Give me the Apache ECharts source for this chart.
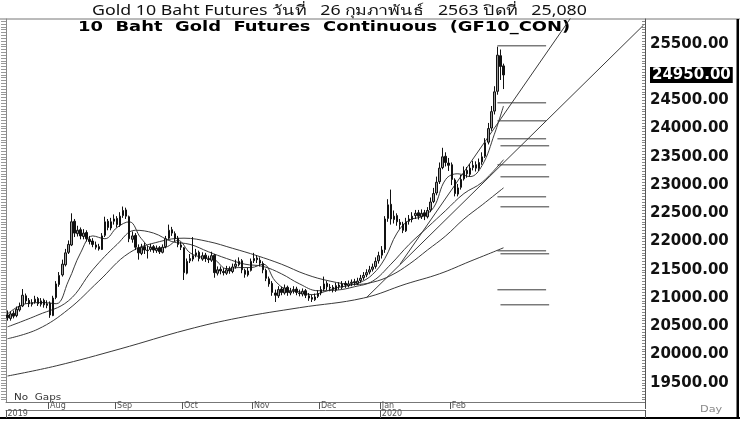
<!DOCTYPE html>
<html><head><meta charset="utf-8">
<script src="https://cdn.jsdelivr.net/npm/echarts/dist/echarts.min.js"></script>
<style>html,body{margin:0;padding:0;background:#fff}#c{width:750px;height:422px}</style>
</head><body><div id="c"></div>
<script>
const opens=[20700,20640,20730,20690,20790,20860,21040,20960,20890,20930,
20990,20890,20960,20870,20910,20690,21010,21240,21410,21590,
21810,21940,22360,22140,22210,22090,22160,22040,22010,21940,
21910,21860,22110,22360,22240,22360,22410,22290,22460,22560,
22440,22040,22110,21890,21790,21910,21840,21860,21910,21840,
21890,21810,21910,22060,22210,22140,22060,21940,21890,21440,
21660,21690,21760,21810,21690,21760,21690,21670,21760,21440,
21510,21470,21440,21510,21470,21560,21590,21660,21490,21410,
21490,21660,21710,21670,21610,21490,21340,21260,21090,21040,
21160,21090,21190,21090,21130,21160,21090,21070,21130,21040,
21010,20970,21030,21090,21160,21260,21190,21190,21140,21230,
21190,21260,21220,21260,21290,21260,21310,21360,21410,21460,
21510,21560,21660,21760,21860,22410,22660,22390,22460,22340,
22310,22190,22360,22390,22460,22510,22440,22510,22440,22560,
22710,22860,23060,23310,23510,23390,23360,23090,22840,22960,
23110,23260,23190,23310,23360,23290,23410,23510,23760,24010,
24310,24660,25290,25110];
const closes=[20650,20720,20680,20800,20850,21050,20950,20900,20920,20980,
20900,20950,20880,20900,20700,21000,21250,21400,21600,21800,
21950,22350,22150,22200,22100,22150,22050,22000,21950,21900,
21870,22100,22350,22250,22350,22400,22300,22450,22550,22450,
22050,22100,21900,21800,21900,21850,21850,21900,21850,21880,
21820,21900,22050,22200,22150,22050,21950,21900,21450,21650,
21700,21750,21800,21700,21750,21700,21680,21750,21450,21500,
21480,21450,21500,21480,21550,21600,21650,21500,21420,21480,
21650,21700,21680,21620,21500,21350,21250,21100,21050,21150,
21100,21180,21100,21120,21150,21100,21080,21120,21050,21000,
20980,21020,21080,21150,21250,21200,21180,21150,21220,21200,
21250,21230,21250,21280,21270,21300,21350,21400,21450,21500,
21550,21650,21750,21850,22400,22650,22400,22450,22350,22300,
22200,22350,22400,22450,22500,22450,22500,22450,22550,22700,
22850,23050,23300,23500,23400,23350,23100,22850,22950,23100,
23250,23200,23300,23350,23300,23400,23500,23750,24000,24300,
24650,25300,25100,24950];
const lows=[20600,20600,20640,20660,20760,20840,20900,20840,20850,20900,
20860,20850,20830,20820,20650,20680,20980,21200,21380,21560,
21780,21920,22080,22090,22040,22040,22000,21950,21900,21860,
21840,21850,22080,22200,22200,22300,22250,22260,22420,22400,
21990,21980,21850,21680,21760,21780,21700,21820,21800,21800,
21780,21790,21880,22040,22100,22000,21900,21850,21320,21420,
21620,21650,21720,21650,21660,21640,21620,21640,21360,21400,
21420,21400,21410,21430,21440,21520,21560,21440,21360,21380,
21470,21620,21620,21560,21440,21300,21200,21040,20930,21000,
21050,21060,21040,21050,21080,21050,21030,21030,21000,20950,
20930,20950,21000,21050,21120,21140,21120,21100,21110,21150,
21160,21180,21190,21210,21220,21230,21270,21320,21370,21420,
21470,21520,21610,21700,21800,22350,22300,22320,22280,22220,
22150,22170,22300,22340,22400,22390,22400,22380,22410,22520,
22680,22820,23020,23280,23330,23250,23000,22800,22800,22920,
23080,23130,23150,23260,23240,23250,23360,23480,23720,23960,
24250,24600,24860,24700];
const highs=[20780,20760,20780,20850,20920,21160,21080,21000,20980,21040,
21020,21000,20990,20960,20940,21040,21300,21460,21680,21870,
22020,22500,22400,22280,22250,22220,22200,22100,22060,22000,
21960,22150,22440,22400,22420,22480,22450,22520,22620,22600,
22460,22180,22150,21950,21960,21980,21920,21960,21940,21930,
21920,21950,22100,22300,22260,22180,22100,21990,21900,21700,
21780,22080,21870,21840,21810,21800,21750,21820,21780,21560,
21560,21530,21570,21560,21610,21680,21720,21690,21520,21540,
21700,21800,21760,21720,21650,21520,21380,21300,21150,21210,
21200,21240,21220,21180,21210,21200,21150,21170,21160,21090,
21060,21080,21140,21210,21380,21300,21250,21230,21270,21280,
21300,21300,21310,21330,21340,21360,21410,21460,21510,21570,
21610,21720,21820,21920,22450,22750,22920,22550,22500,22400,
22350,22420,22470,22520,22560,22560,22570,22560,22610,22780,
22950,23150,23400,23660,23580,23480,23400,23120,23020,23180,
23330,23320,23370,23430,23420,23470,23580,23830,24100,24400,
24750,25450,25400,25150];

// moving averages: [bar index, value]
const maShort=[[0,20720],[6,20900],[12,20920],[16,20900],[20,21300],[24,21800],[28,22100],[32,22050],[36,22250],[40,22350],[44,22050],[48,21880],[52,21900],[56,22020],[60,21800],[64,21720],[68,21680],[72,21520],[76,21540],[80,21540],[84,21600],[88,21300],[92,21140],[96,21110],[100,21060],[104,21110],[108,21180],[112,21220],[116,21280],[120,21420],[124,21700],[128,22150],[132,22380],[136,22440],[140,22600],[144,23100],[148,23200],[152,23150],[156,23350],[160,23900],[163,24400]];
const maMid=[[0,20490],[10,20700],[20,20950],[28,21500],[36,21950],[42,22200],[48,22150],[54,22000],[60,21950],[66,21820],[72,21700],[78,21600],[84,21560],[90,21430],[96,21250],[102,21130],[108,21140],[114,21200],[120,21300],[126,21600],[132,21950],[138,22250],[144,22550],[150,22850],[156,23050],[163,23450]];
const maLong=[[0,20280],[10,20450],[20,20800],[30,21300],[40,21800],[50,22000],[58,22060],[66,22000],[74,21880],[82,21750],[90,21600],[98,21420],[106,21300],[114,21240],[120,21280],[126,21400],[132,21600],[138,21850],[144,22100],[150,22400],[156,22650],[163,22950]];
const ma200=[[0,19620],[16,19800],[37,20100],[59,20440],[76,20650],[96,20830],[117,21000],[131,21250],[142,21430],[152,21650],[158,21780],[163,21890]];
const trend1=[[129,21600],[186,26030]];
const trend2=[[118,21010],[209,25830]];
const levelValues=[25465,24456,24137,23819,23695,23358,23146,22792,22615,21836,21783,21146,20880];
const levelStart=[161,161,161,161,162,161,162,161,162,161,162,161,162];
const levelEnd=[177,177,177,177,178,177,178,177,178,177,178,177,178];

const monthLabels=['Aug','Sep','Oct','Nov','Dec','Jan','Feb'];
const monthStart=[14,36,58,81,103,123,146];
const yearLabels=['2019','2020'];
const yearStart=[0,123];
const yLabelValues=[19500,20000,20500,21000,21500,22000,22500,23000,23500,24000,24500,24950,25500];
const lastPrice=24950;
const titleText='Gold 10 Baht Futures วันที่   26 กุมภาพันธ์   2563 ปิดที่   25,080';
const subTitleText='10  Baht  Gold  Futures  Continuous  (GF10_CON)';
const N=210, Y_MIN=19160, Y_MAX=25940;

const cats=Array.from({length:N},(_,i)=>String(i));
const candleData=closes.map((c,i)=>[opens[i],c,lows[i],highs[i]]);
const minorTicks=[];for(let v=19200;v<=25900;v+=50)minorTicks.push(v);

const lineStyleBase={color:'#3a3a3a',width:1};
function lineSeries(data,smooth){return {type:'line',data:data,smooth:smooth,showSymbol:false,symbol:'none',lineStyle:lineStyleBase,silent:true,z:3};}

const series=[
 {type:'candlestick',data:candleData,barWidth:2,itemStyle:{color:'#9a9a9a',color0:'#111',borderColor:'#111',borderColor0:'#111',borderWidth:1},z:4},
 lineSeries(maShort,0.4),lineSeries(maMid,0.4),lineSeries(maLong,0.4),lineSeries(ma200,0.4),
 lineSeries(trend1,false),lineSeries(trend2,false)
];
levelValues.forEach((v,k)=>series.push(lineSeries([[levelStart[k],v],[levelEnd[k],v]],false)));

const chart=echarts.init(document.getElementById('c'),null,{renderer:'canvas'});
chart.setOption({
 animation:false,
 backgroundColor:'#fff',
 grid:{left:6,right:105,top:19,bottom:20,show:false},
 xAxis:[
  {type:'category',data:cats,boundaryGap:true,position:'bottom',
   axisLine:{lineStyle:{color:'#777'}},
   axisTick:{show:true,interval:(i)=>monthStart.includes(i),length:7,lineStyle:{color:'#555'}},
   axisLabel:{interval:(i)=>monthStart.includes(i),formatter:(v,i)=>monthLabels[monthStart.indexOf(i)]||'',fontSize:8,color:'#555',align:'left',margin:0,fontFamily:'DejaVu Sans'},
   splitLine:{show:false}},
  {type:'category',data:cats,boundaryGap:true,position:'bottom',offset:8,
   axisLine:{lineStyle:{color:'#777'}},
   axisTick:{show:true,interval:(i)=>yearStart.includes(i),length:8,lineStyle:{color:'#555'}},
   axisLabel:{interval:(i)=>yearStart.includes(i),formatter:(v,i)=>yearLabels[yearStart.indexOf(i)]||'',fontSize:8,color:'#555',align:'left',margin:0,fontFamily:'DejaVu Sans'},
   splitLine:{show:false}}
 ],
 yAxis:[
  {type:'value',position:'right',min:Y_MIN,max:Y_MAX,scale:true,
   axisLine:{show:true,lineStyle:{color:'#555'}},
   axisTick:{show:true,inside:true,length:3,customValues:minorTicks,lineStyle:{color:'#888'}},
   axisLabel:{customValues:yLabelValues,margin:5,fontSize:15,fontWeight:'bold',color:'#111',fontFamily:'DejaVu Sans',
     formatter:(v)=>v===lastPrice?'{hl|'+v.toFixed(2)+'}':v.toFixed(2),
     rich:{hl:{backgroundColor:'#000',color:'#fff',fontSize:15,fontWeight:'bold',fontFamily:'DejaVu Sans',padding:[1,2,0,2]}}},
   splitLine:{show:false}},
  {type:'value',position:'left',min:Y_MIN,max:Y_MAX,scale:true,
   axisLine:{show:true,lineStyle:{color:'#888'}},
   axisTick:{show:true,inside:false,length:5,customValues:minorTicks,lineStyle:{color:'#999'}},
   axisLabel:{show:false},splitLine:{show:false}}
 ],
 series:series,
 graphic:[
  {type:'text',x:92,y:4,scaleX:1.27,style:{text:titleText,fontSize:14,fill:'#111',fontFamily:'Noto Sans, DejaVu Sans, sans-serif'}},
  {type:'text',x:78,y:20,scaleX:1.28,style:{text:subTitleText,fontSize:14,fontWeight:'bold',fill:'#000',fontFamily:'DejaVu Sans'}},
  {type:'line',shape:{x1:0,y1:19,x2:740,y2:19},style:{stroke:'#777',lineWidth:1}},
  {type:'line',shape:{x1:0,y1:418,x2:740,y2:418},style:{stroke:'#000',lineWidth:2}},
  {type:'rect',shape:{x:736.5,y:19,width:2.5,height:400},style:{fill:'#000'}},
  {type:'text',x:14,y:394,scaleX:1.3,style:{text:'No  Gaps',fontSize:8,fill:'#333',fontFamily:'DejaVu Sans'}},
  {type:'text',x:700,y:405,scaleX:1.25,style:{text:'Day',fontSize:9,fill:'#888',fontFamily:'DejaVu Sans'}}
 ]
});
</script></body></html>
